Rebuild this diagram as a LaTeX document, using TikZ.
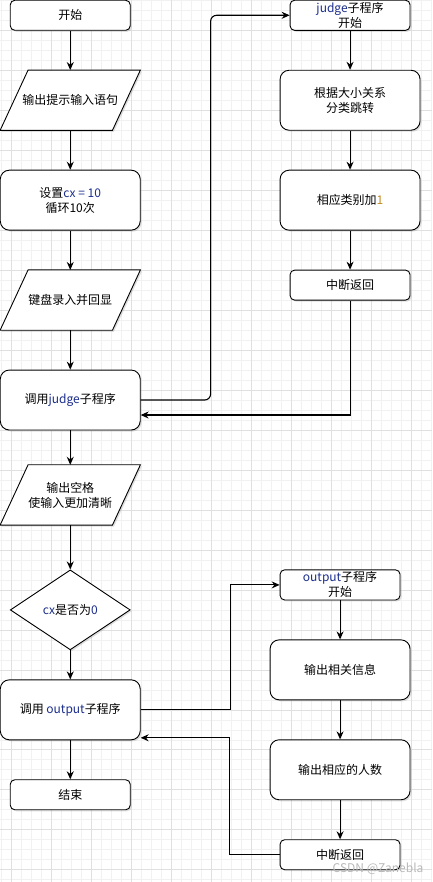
\documentclass[tikz,border=0pt]{standalone}
\usepackage{fontspec}
\setmainfont{Noto Sans CJK SC}
\usetikzlibrary{arrows.meta,shapes.geometric,shadows}
\definecolor{codeblue}{HTML}{1C2E8C}
\definecolor{codegold}{HTML}{C08A1E}
\definecolor{minorline}{HTML}{F1F1F1}
\definecolor{majorline}{HTML}{E0E0E0}
\pgfdeclarelayer{back}
\pgfsetlayers{back,main}

\begin{document}
\begin{tikzpicture}[x=1pt, y=-1pt,
    every node/.style={font=\fontsize{12pt}{15pt}\selectfont, align=center},
    boxshadow/.style={drop shadow={shadow xshift=1.5pt, shadow yshift=-1.5pt, opacity=0.25}},
    procbox/.style={draw, fill=white, line width=0.9pt, rounded corners=9pt,
        minimum width=140pt, minimum height=60pt, inner sep=2pt, boxshadow},
    smallbox/.style={procbox, rounded corners=4.5pt, minimum width=120pt, minimum height=30pt},
    iobox/.style={minimum width=112pt, minimum height=60pt, inner sep=2pt},
    ioshape/.style={draw, fill=white, line width=0.9pt, boxshadow},
    decisionbox/.style={draw, fill=white, line width=0.9pt, diamond, aspect=1.5,
        minimum width=120pt, minimum height=80pt, inner sep=0pt, boxshadow},
    flow/.style={draw, line width=1.1pt, -{Stealth[length=8pt, width=7pt]}}]

    % Background grid
    \begin{pgfonlayer}{back}
    \fill[white] (0,0) rectangle (432,882);
    \foreach \x in {1,11,...,431} \draw[minorline, line width=0.6pt] (\x,0) -- (\x,882);
    \foreach \y in {0,10,...,880} \draw[minorline, line width=0.6pt] (0,\y) -- (432,\y);
    \foreach \x in {11,51,...,411} \draw[majorline, line width=0.6pt] (\x,0) -- (\x,882);
    \foreach \y in {30,70,...,870} \draw[majorline, line width=0.6pt] (0,\y) -- (432,\y);
    \end{pgfonlayer}
    \useasboundingbox (0,0) rectangle (432,882);

    % Main program
    \node[smallbox] (start) at (70,15) {开始};
    \node[iobox] (prompt) at (70,100) {输出提示输入语句};
    \node[procbox] (setcx) at (70,200) {设置\textcolor{codeblue}{cx = 10}\\循环10次};
    \node[iobox] (readkey) at (70,300) {键盘录入并回显};
    \node[procbox] (calljudge) at (70,400) {调用\textcolor{codeblue}{judge}子程序};
    \node[iobox] (space) at (70,495) {输出空格\\使输入更加清晰};
    \node[decisionbox] (testcx) at (70,610) {\textcolor{codeblue}{cx}是否为\textcolor{codeblue}{0}};
    \node[procbox] (calloutput) at (70,710) {调用 \textcolor{codeblue}{output}子程序};
    \node[smallbox] (stop) at (70,795) {结束};

    % Parallelograms behind the input/output nodes
    \begin{pgfonlayer}{back}
    \foreach \n in {prompt,readkey,space}
        \draw[ioshape] ([xshift=-14pt]\n.south west) -- ([xshift=-14pt]\n.south east)
            -- ([xshift=14pt]\n.north east) -- ([xshift=14pt]\n.north west) -- cycle;
    \end{pgfonlayer}

    % judge subroutine
    \node[smallbox] (judgestart) at (350,15) {\textcolor{codeblue}{judge}子程序\\开始};
    \node[procbox] (judgesort) at (350,100) {根据大小关系\\分类跳转};
    \node[procbox] (judgeinc) at (350,200) {相应类别加\textcolor{codegold}{1}};
    \node[smallbox] (judgeret) at (350,285) {中断返回};

    % output subroutine
    \node[smallbox] (outstart) at (340,585) {\textcolor{codeblue}{output}子程序\\开始};
    \node[procbox] (outinfo) at (340,670) {输出相关信息};
    \node[procbox] (outcount) at (340,770) {输出相应的人数};
    \node[smallbox] (outret) at (340,855) {中断返回};

    % Connectors
    \draw[flow] (start) -- (prompt);
    \draw[flow] (prompt) -- (setcx);
    \draw[flow] (setcx) -- (readkey);
    \draw[flow] (readkey) -- (calljudge);
    \draw[flow] (calljudge) -- (space);
    \draw[flow] (space) -- (testcx);
    \draw[flow] (testcx) -- (calloutput);
    \draw[flow] (calloutput) -- (stop);

    \draw[flow] (judgestart) -- (judgesort);
    \draw[flow] (judgesort) -- (judgeinc);
    \draw[flow] (judgeinc) -- (judgeret);
    \draw[flow, rounded corners=6pt] (calljudge.east) -- ++(70,0) |- (judgestart.west);
    \draw[flow] (judgeret.south) |- ([yshift=-15pt]calljudge.east);

    \draw[flow] (outstart) -- (outinfo);
    \draw[flow] (outinfo) -- (outcount);
    \draw[flow] (outcount) -- (outret);
    \draw[flow] (calloutput.east) -- ++(90,0) |- (outstart.west);
    \draw[flow] (outret.west) -- ++(-50,0) |- ([yshift=-28pt]calloutput.east);

    % Watermark
    \node[text=gray!55, font=\fontsize{12pt}{14pt}\selectfont] (mark) at (378,869) {CSDN @Zanebla};
\end{tikzpicture}
\end{document}
